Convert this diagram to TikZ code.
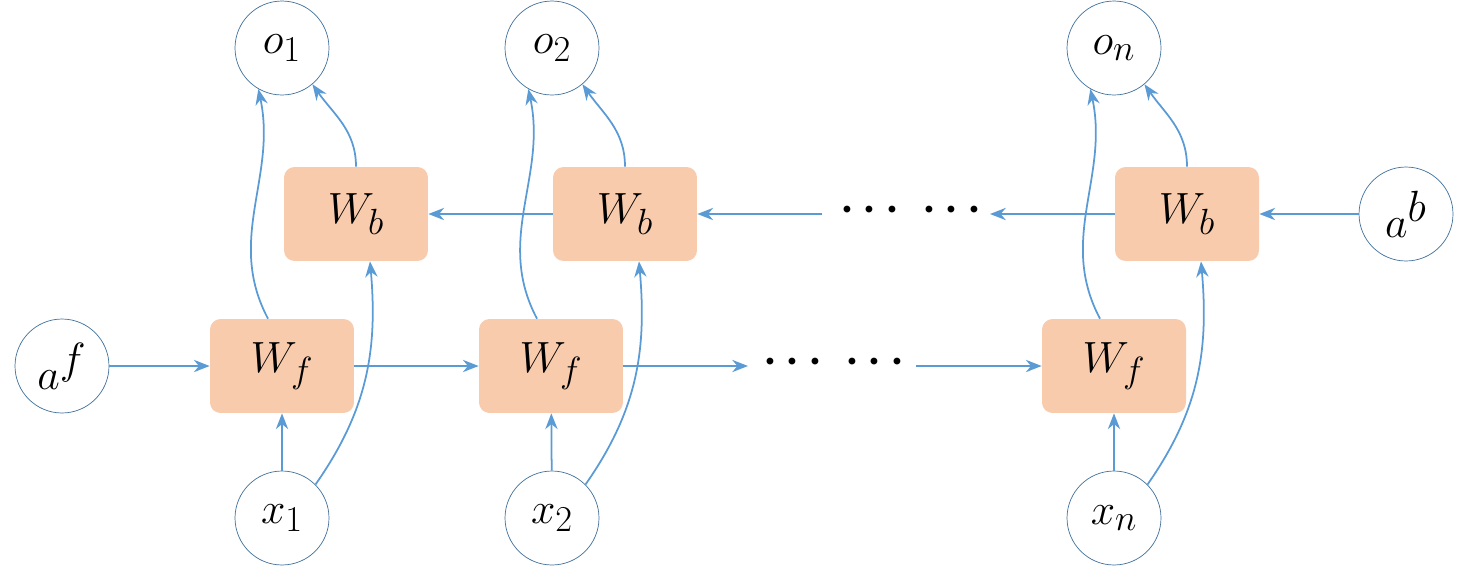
\documentclass[tikz,border=0pt]{standalone}
\usepackage{amsmath}
\usetikzlibrary{calc, positioning, arrows.meta}

\definecolor{edgeBlue}{HTML}{41719C}
\definecolor{arrowBlue}{HTML}{5B9BD5}
\definecolor{cellFill}{HTML}{F8CBAD}

\begin{document}
\begin{tikzpicture}[x = 0.02cm, y = -0.02cm,
		unit/.style = {circle, draw = edgeBlue, fill = white, minimum size = 1.88cm, inner sep = 0pt, font = \fontsize{28}{30}\selectfont},
		cell/.style = {rounded corners = 6pt, fill = cellFill, minimum width = 2.88cm, minimum height = 1.88cm, font = \fontsize{28}{30}\selectfont},
		link/.style = {arrowBlue, line width = 1pt, -{Stealth[length = 9pt, width = 7pt]}}
	]

		% canvas
		\useasboundingbox (0, 0) rectangle (1477, 582);

		% forward cells
		\node[cell] (WF1) at (282, 366) {$W_f$};
		\node[cell] (WF2) at (551, 366) {$W_f$};
		\node[cell] (WFN) at (1114, 366) {$W_f$};

		% backward cells
		\node[cell] (WB1) at (356, 214) {$W_b$};
		\node[cell] (WB2) at (625, 214) {$W_b$};
		\node[cell] (WBN) at (1187, 214) {$W_b$};

		% inputs and outputs
		\node[unit] (X1) at (282, 518) {$x_1$};
		\node[unit] (X2) at (552, 518) {$x_2$};
		\node[unit] (XN) at (1114, 518) {$x_n$};
		\node[unit] (O1) at (282, 48) {$o_1$};
		\node[unit] (O2) at (552, 48) {$o_2$};
		\node[unit] (ON) at (1114, 48) {$o_n$};

		% initial states
		\node[unit, font = \fontsize{34}{36}\selectfont] (AF) at (62, 366) {$a^f$};
		\node[unit, font = \fontsize{34}{36}\selectfont] (AB) at (1406, 214) {$a^b$};

		% gaps
		\node[font = \fontsize{28}{30}\selectfont] at (838, 362) {$\boldsymbol{\cdots\ \cdots}$};
		\node[font = \fontsize{28}{30}\selectfont] at (915, 210) {$\boldsymbol{\cdots\ \cdots}$};
		\coordinate (FGapL) at (748, 366);
		\coordinate (FGapR) at (916, 366);
		\coordinate (BGapL) at (990, 214);
		\coordinate (BGapR) at (822, 214);

		% forward chain
		\draw[link] (AF) -- (WF1);
		\draw[link] (WF1) -- (WF2);
		\draw[link] (WF2) -- (FGapL);
		\draw[link] (FGapR) -- (WFN);

		% backward chain
		\draw[link] (AB) -- (WBN);
		\draw[link] (WBN) -- (BGapL);
		\draw[link] (BGapR) -- (WB2);
		\draw[link] (WB2) -- (WB1);

		% per step links
		\foreach \step in {1, 2, N} {
			\draw[link] (X\step) -- (WF\step);
			\draw[link] (X\step.45) to [out = 55, in = -85] ($(WB\step.south) + (14, 0)$);
			\draw[link] ($(WF\step.north) + (-14, 0)$) to [out = 118, in = -78] (O\step.240);
			\draw[link] (WB\step.north) to [out = 90, in = -55] (O\step.310);
		}

	\end{tikzpicture}
\end{document}
